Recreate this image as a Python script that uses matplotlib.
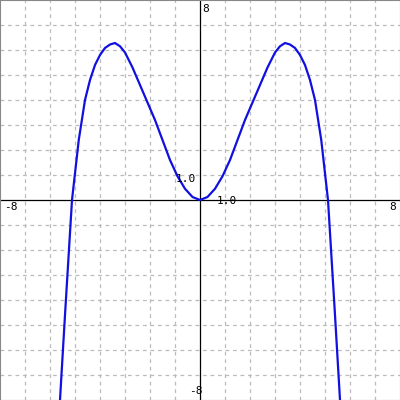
import matplotlib
matplotlib.use("Agg")
import matplotlib.pyplot as plt

x_vals = [-5.6, -5.4, -5.12, -4.85, -4.6, -4.4, -4.2, -4.0, -3.8, -3.6, -3.4, -3.2, -3.0, -2.7, -2.4, -2.1, -1.8, -1.5, -1.2, -0.9, -0.6, -0.3, 0.0,
          0.3, 0.6, 0.9, 1.2, 1.5, 1.8, 2.1, 2.4, 2.7, 3.0, 3.2, 3.4, 3.6, 3.8, 4.0, 4.2, 4.4, 4.6, 4.85, 5.12, 5.4, 5.6]
y_vals = [-8.0, -4.6, 0.0, 2.4, 4.0, 4.8, 5.4, 5.8, 6.08, 6.22, 6.28, 6.15, 5.9, 5.3, 4.6, 3.9, 3.2, 2.4, 1.6, 0.95, 0.45, 0.12, 0.0,
          0.12, 0.45, 0.95, 1.6, 2.4, 3.2, 3.9, 4.6, 5.3, 5.9, 6.15, 6.28, 6.22, 6.08, 5.8, 5.4, 4.8, 4.0, 2.4, 0.0, -4.6, -8.0]

fig = plt.figure(figsize=(4, 4), dpi=100)
ax = fig.add_axes([0, 0, 1, 1])
ax.set_xlim(-8, 8)
ax.set_ylim(-8, 8)
for v in range(-7, 8):
    if v == 0:
        continue
    ax.axvline(v, color="#bbbbbb", lw=0.9, ls=(0, (3, 3)))
    ax.axhline(v, color="#bbbbbb", lw=0.9, ls=(0, (3, 3)))
ax.axhline(0, color="black", lw=0.9)
ax.axvline(0, color="black", lw=0.9)
ax.plot(x_vals, y_vals, color="#1010e0", lw=1.6)
for s in ax.spines.values():
    s.set_color("#888888")
ax.set_xticks([]); ax.set_yticks([])
fs = dict(fontsize=8, family="DejaVu Sans Mono", color="black")
ax.text(-7.85, -0.1, "-8", ha="left", va="top", **fs)
ax.text(7.85, -0.1, "8", ha="right", va="top", **fs)
ax.text(0.1, 7.85, "8", ha="left", va="top", **fs)
ax.text(0.1, -7.85, "-8", ha="right", va="bottom", **fs)
ax.text(-0.15, 0.65, "1.0", ha="right", va="bottom", **fs)
ax.text(0.65, -0.05, "1.0", ha="left", va="center", **fs)
fig.savefig("out.png", dpi=100)
